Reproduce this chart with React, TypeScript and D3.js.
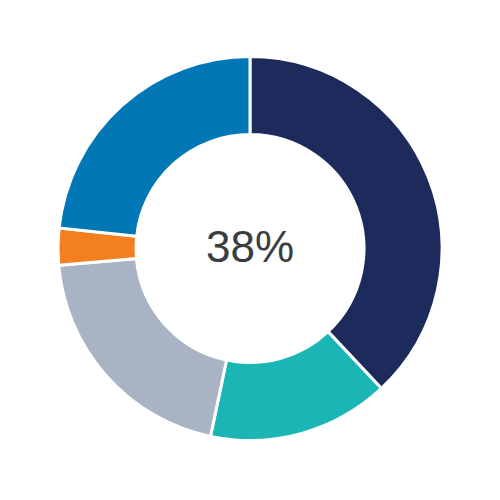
import React, { useEffect, useRef } from 'react';
import * as d3 from 'd3';

const categories = ['A', 'B', 'C', 'D', 'E'];
const values = [38, 15.3, 20.3, 3.1, 23.3];
const colors = ['#1c2b5b', '#1cb5b6', '#a8b3c3', '#f37f20', '#0277b5'];
const centerLabel = '38%';

const App: React.FC = () => {
  const chartRef = useRef<SVGSVGElement>(null);

  useEffect(() => {
    const svg = d3.select(chartRef.current);
    svg.selectAll('*').remove();

    const width = 500;
    const height = 500;
    const cx = 250;
    const cy = 248.5;
    const outer = 192;
    const inner = 114;

    const g = svg.append('g').attr('transform', `translate(${cx},${cy})`);

    const pie = d3
      .pie<number>()
      .sort(null)
      .value((d) => d);

    const arc = d3.arc<d3.PieArcDatum<number>>().innerRadius(inner).outerRadius(outer);

    g.selectAll('path')
      .data(pie(values))
      .join('path')
      .attr('d', arc)
      .attr('fill', (d, i) => colors[i])
      .attr('stroke', '#fff')
      .attr('stroke-width', 3)
      .attr('stroke-linejoin', 'miter');

    g.append('text')
      .attr('x', 0)
      .attr('y', 13)
      .attr('text-anchor', 'middle')
      .attr('font-family', 'Liberation Sans, Arial, sans-serif')
      .attr('font-size', 44)
      .attr('fill', '#3b3e41')
      .text(centerLabel);

    svg.attr('width', width).attr('height', height);
  }, []);

  return (
    <svg
      ref={chartRef}
      width={500}
      height={500}
      style={{ position: 'absolute', left: 0, top: 0, background: '#fff' }}
      aria-label={categories.join(',')}
    ></svg>
  );
};

export default App;
